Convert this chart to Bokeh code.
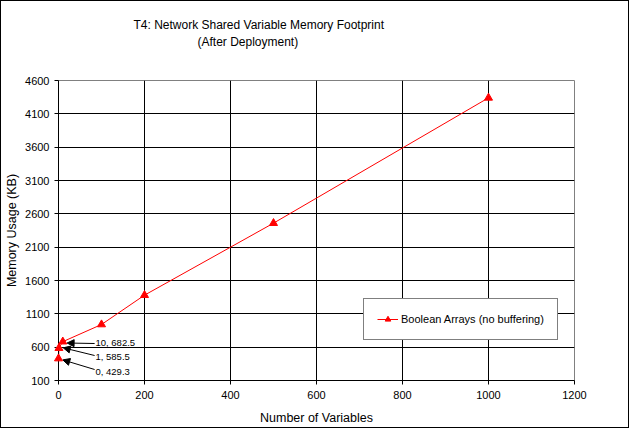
from bokeh.plotting import figure
from bokeh.models import (Label, Arrow, NormalHead, Range1d, Legend, LegendItem,
                          FixedTicker, Title)
from bokeh.embed import file_html
from bokeh.resources import INLINE

# ---- data ----
num_vars = [0, 1, 10, 100, 200, 500, 1000]
memory_kb = [429.3, 585.5, 682.5, 940, 1380, 2460, 4340]
x_ticks = [0, 200, 400, 600, 800, 1000, 1200]
y_ticks = [100, 600, 1100, 1600, 2100, 2600, 3100, 3600, 4100, 4600]
series_name = "Boolean Arrays (no buffering)"
title_lines = ["T4: Network Shared Variable Memory Footprint", "(After Deployment)"]
annot_text = ["0, 429.3", "1, 585.5", "10, 682.5"]

FONT = "Liberation Sans"

p = figure(width=629, height=428,
           x_range=Range1d(x_ticks[0], x_ticks[-1]),
           y_range=Range1d(y_ticks[0], y_ticks[-1]),
           output_backend="svg", toolbar_location=None, title_location=None,
           min_border_left=57, min_border_right=56,
           min_border_top=79, min_border_bottom=49)
p.styles = {"border": "1px solid black"}
p.background_fill_color = "white"
p.border_fill_color = "white"
p.outline_line_color = "#808080"
p.outline_line_width = 1

# grids (inner lines only, outer edges stay gray)
p.xgrid.ticker = FixedTicker(ticks=x_ticks[1:-1])
p.ygrid.ticker = FixedTicker(ticks=y_ticks[1:-1])
for g in (p.xgrid, p.ygrid):
    g.grid_line_color = "black"
    g.grid_line_width = 1
    g.grid_line_alpha = 1

# axes
p.xaxis.ticker = FixedTicker(ticks=x_ticks)
p.yaxis.ticker = FixedTicker(ticks=y_ticks)
p.xaxis.axis_label = "Number of Variables"
p.yaxis.axis_label = "Memory Usage (KB)"
for ax in (p.xaxis, p.yaxis):
    ax.axis_line_color = "black"
    ax.major_tick_line_color = "black"
    ax.major_tick_out = 4
    ax.major_tick_in = 0
    ax.minor_tick_line_color = None
    ax.major_label_text_font = FONT
    ax.major_label_text_font_size = "11px"
    ax.major_label_text_color = "black"
    ax.axis_label_text_font = FONT
    ax.axis_label_text_font_size = "12.5px"
    ax.axis_label_text_font_style = "normal"
    ax.axis_label_text_color = "black"
p.xaxis.major_label_standoff = 6
p.yaxis.major_label_standoff = 5
p.xaxis.axis_label_standoff = 9
p.yaxis.axis_label_standoff = 3

# series
ln = p.line(num_vars, memory_kb, line_color="red", line_width=1)
mk = p.scatter(num_vars, memory_kb, marker="triangle", size=8,
               fill_color="red", line_color="red", level="overlay")

legend = Legend(items=[LegendItem(label=series_name, renderers=[ln, mk])],
                location=(305, 40))
legend.border_line_color = "black"
legend.border_line_width = 1
legend.background_fill_color = "white"
legend.background_fill_alpha = 1
legend.padding = 13
legend.margin = 0
legend.spacing = 0
legend.label_standoff = 3
legend.glyph_width = 21
legend.glyph_height = 14
legend.label_height = 14
legend.label_text_font = FONT
legend.label_text_font_size = "11px"
legend.label_text_color = "black"
p.add_layout(legend, "center")

# titles: line 2 nearer the frame (with a gap below it), then line 1
title_offsets = [75, 139]
title_pad_bottom = [0, 31]
for txt, off, pb in reversed(list(zip(title_lines, title_offsets, title_pad_bottom))):
    p.add_layout(Title(text=txt, align="left", offset=off, standoff=1,
                       vertical_align="bottom",
                       padding=dict(left=0, right=0, top=0, bottom=pb),
                       text_font=FONT,
                       text_font_size="12px", text_font_style="normal",
                       text_color="black"), "above")

# point annotations (callouts for the first three points)
tail_y = [265, 475, 655]
label_y = [240, 464, 674]
head_dx = [10, 10, 10]
head_dy = [-20, 5, -20]
for i, txt in enumerate(annot_text):
    x0, y0 = num_vars[i], memory_kb[i]
    p.add_layout(Arrow(x_start=84, y_start=tail_y[i],
                       x_end=x0 + head_dx[i], y_end=y0 + head_dy[i],
                       line_color="black", line_width=1,
                       end=NormalHead(size=7, fill_color="black",
                                      line_color="black")))
    p.add_layout(Label(x=86, y=label_y[i], text=txt, text_align="left",
                       text_baseline="middle", text_font=FONT,
                       text_font_size="9.5px", text_color="black"))

html = file_html(p, INLINE, title="T4 Memory Footprint")
html = html.replace("<body>", '<body style="margin:0">')
open("out.html", "w").write(html)
